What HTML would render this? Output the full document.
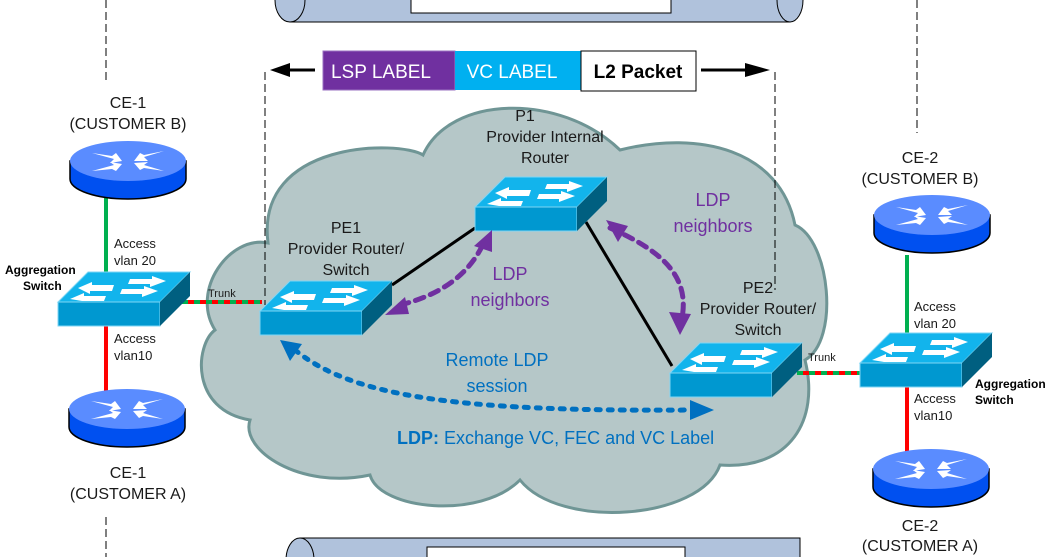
<!DOCTYPE html>
<html><head><style>
html,body{margin:0;padding:0;background:#fff;}
svg{display:block;font-family:"Liberation Sans",sans-serif;}
</style></head><body>
<svg width="1060" height="557" viewBox="0 0 1060 557" xmlns="http://www.w3.org/2000/svg">
<defs>
<g id="sw">
  <polygon points="0,30 102,30 132,0 30,0" fill="#12b4ec" stroke="#7fd6f5" stroke-width="1"/>
  <rect x="0" y="30" width="102" height="24" fill="#0098d0" stroke="#7fd6f5" stroke-width="1"/>
  <polygon points="102,30 132,0 132,24 102,54" fill="#005f80"/>
  <g fill="#fff">
    <polygon points="20,16 34,10 34,13 56,13 54,19 32,19 32,22"/>
    <polygon points="108,9 94,4 94,7 72,7 70,12 92,12 92,15"/>
    <polygon points="12,27 26,21 26,24 48,24 46,29 24,29"/>
    <polygon points="100,19 86,14 86,17 64,17 62,22 84,22 84,25"/>
  </g>
</g>
<g id="rt">
  <path d="M0,18 L0,36 A58,20 0 0 0 116,36 L116,18 Z" fill="#0050f0" stroke="#000" stroke-width="1.5"/>
  <ellipse cx="58" cy="18" rx="58" ry="20" fill="#5a8cff"/>
  <g fill="#fff">
    <polygon points="22,10 44,16 40,20 52,18 46,10 42,13"/>
    <polygon points="94,8 74,14 78,18 64,18 70,10 74,12"/>
    <polygon points="22,28 44,22 40,19 52,21 46,28 42,26"/>
    <polygon points="94,28 74,22 78,19 64,20 70,27 74,25"/>
  </g>
</g>
</defs>

<!-- top cylinder -->
<path d="M290,-30 L790,-30 L790,22 L290,22 Z" fill="#b0c2dc" stroke="#000"/>
<ellipse cx="290" cy="0" rx="15" ry="22" fill="#b0c2dc" stroke="#000"/>
<ellipse cx="790" cy="0" rx="13" ry="22" fill="#b0c2dc" stroke="#000"/>
<rect x="411" y="-10" width="260" height="23" fill="#fff" stroke="#000"/>
<!-- bottom cylinder -->
<path d="M300,538 L800,538 L800,580 L300,580 Z" fill="#b0c2dc" stroke="#000"/>
<ellipse cx="300" cy="560" rx="14" ry="22" fill="#b0c2dc" stroke="#000"/>
<rect x="427" y="547" width="258" height="20" fill="#fff" stroke="#000"/>

<!-- cloud -->
<path d="M268,243 C255,140 400,140 423,155 C450,95 560,92 620,150 C700,130 780,150 795,225 C830,240 840,340 805,360 C820,420 790,470 720,465 C700,520 560,530 520,480 C480,520 380,510 370,475 C300,490 240,450 250,420 C190,410 195,345 215,330 C190,290 230,235 268,243 Z" fill="#b5c7c8" stroke="#6f9595" stroke-width="3"/>

<!-- dashed verticals -->
<g stroke="#000" stroke-width="1" stroke-dasharray="8,4" fill="none">
  <line x1="106" y1="0" x2="106" y2="82"/>
  <line x1="106" y1="517" x2="106" y2="557"/>
  <line x1="917" y1="0" x2="917" y2="133"/>
  <line x1="265" y1="72" x2="265" y2="305"/>
  <line x1="775" y1="72" x2="775" y2="290"/>
</g>

<!-- label bar -->
<rect x="323" y="51" width="132" height="39" fill="#7030a0" stroke="#9a70c0"/>
<rect x="455" y="51" width="126" height="39" fill="#00b0f0"/>
<rect x="581" y="51" width="115" height="40" fill="#fff" stroke="#000"/>
<text x="381" y="78" font-size="19" fill="#fff" text-anchor="middle">LSP LABEL</text>
<text x="512" y="78" font-size="19" fill="#fff" text-anchor="middle">VC LABEL</text>
<text x="638" y="78" font-size="19" font-weight="bold" fill="#000" text-anchor="middle">L2 Packet</text>
<line x1="315" y1="70" x2="285" y2="70" stroke="#000" stroke-width="3"/>
<polygon points="270,70 290,63 290,77" fill="#000"/>
<line x1="701" y1="70" x2="755" y2="70" stroke="#000" stroke-width="3"/>
<polygon points="770,70 745,63 745,77" fill="#000"/>

<!-- links -->
<line x1="106" y1="190" x2="106" y2="275" stroke="#00b050" stroke-width="4"/>
<line x1="106" y1="326" x2="106" y2="398" stroke="#ff0000" stroke-width="4"/>
<line x1="907" y1="255" x2="907" y2="335" stroke="#00b050" stroke-width="4"/>
<line x1="907" y1="387" x2="907" y2="455" stroke="#ff0000" stroke-width="4"/>
<line x1="180" y1="302" x2="262" y2="302" stroke="#ff0000" stroke-width="4"/>
<line x1="182" y1="302" x2="262" y2="302" stroke="#00b050" stroke-width="4" stroke-dasharray="6,6"/>
<line x1="797" y1="373" x2="862" y2="373" stroke="#ff0000" stroke-width="4"/>
<line x1="797" y1="373" x2="862" y2="373" stroke="#00b050" stroke-width="4" stroke-dasharray="6,6"/>
<line x1="392" y1="285" x2="475" y2="228" stroke="#000" stroke-width="3"/>
<line x1="586" y1="222" x2="672" y2="366" stroke="#000" stroke-width="3"/>

<!-- devices -->
<use href="#sw" x="58" y="272"/>
<use href="#sw" x="475" y="177"/>
<use href="#sw" x="260" y="281"/>
<use href="#sw" x="670" y="343"/>
<use href="#sw" x="860" y="333"/>
<use href="#rt" x="70" y="143"/>
<use href="#rt" x="69" y="391"/>
<use href="#rt" x="874" y="197"/>
<use href="#rt" x="873" y="451"/>

<!-- LDP arrows -->
<g fill="none" stroke-width="5" stroke-dasharray="9,7" stroke-linecap="round">
  <path d="M400,305 C440,295 470,275 485,240" stroke="#7030a0"/>
  <path d="M610,228 C660,250 690,275 682,318" stroke="#7030a0"/>
  <path d="M295,350 C350,395 450,412 690,410" stroke="#0070c0" stroke-dasharray="4,8"/>
</g>
<polygon points="492,230 474,246 492,252" fill="#7030a0"/>
<polygon points="385,315 405,297 409,314" fill="#7030a0"/>
<polygon points="606,220 628,226 618,242" fill="#7030a0"/>
<polygon points="680,335 669,312 691,314" fill="#7030a0"/>
<polygon points="280,340 302,344 290,361" fill="#0070c0"/>
<polygon points="714,410 690,400 690,420" fill="#0070c0"/>

<!-- text -->
<g fill="#1a1a1a" font-size="16" text-anchor="middle">
  <text x="128" y="108">CE-1</text><text x="128" y="129">(CUSTOMER B)</text>
  <text x="128" y="478">CE-1</text><text x="128" y="499">(CUSTOMER A)</text>
  <text x="920" y="163">CE-2</text><text x="920" y="184">(CUSTOMER B)</text>
  <text x="920" y="531">CE-2</text><text x="920" y="551">(CUSTOMER A)</text>
  <text x="525" y="121">P1</text><text x="545" y="142">Provider Internal</text><text x="545" y="163">Router</text>
  <text x="346" y="233">PE1</text><text x="346" y="254">Provider Router/</text><text x="346" y="275">Switch</text>
  <text x="758" y="293">PE2</text><text x="758" y="314">Provider Router/</text><text x="758" y="335">Switch</text>
</g>
<g fill="#7030a0" font-size="18" text-anchor="middle">
  <text x="510" y="280">LDP</text><text x="510" y="306">neighbors</text>
  <text x="713" y="206">LDP</text><text x="713" y="232">neighbors</text>
</g>
<g fill="#0070c0" font-size="18">
  <text x="497" y="366" text-anchor="middle">Remote LDP</text>
  <text x="497" y="392" text-anchor="middle">session</text>
  <text x="397" y="444"><tspan font-weight="bold">LDP:</tspan> Exchange VC, FEC and VC Label</text>
</g>
<g fill="#1a1a1a" font-size="13">
  <text x="114" y="248">Access</text><text x="114" y="265">vlan 20</text>
  <text x="114" y="343">Access</text><text x="114" y="360">vlan10</text>
  <text x="914" y="311">Access</text><text x="914" y="328">vlan 20</text>
  <text x="914" y="403">Access</text><text x="914" y="420">vlan10</text>
  <text x="208" y="297" font-size="11">Trunk</text>
  <text x="808" y="361" font-size="11">Trunk</text>
</g>
<g fill="#000" font-size="12" font-weight="bold">
  <text x="5" y="274">Aggregation</text><text x="23" y="290">Switch</text>
  <text x="975" y="388">Aggregation</text><text x="975" y="404">Switch</text>
</g>
</svg>
</body></html>
